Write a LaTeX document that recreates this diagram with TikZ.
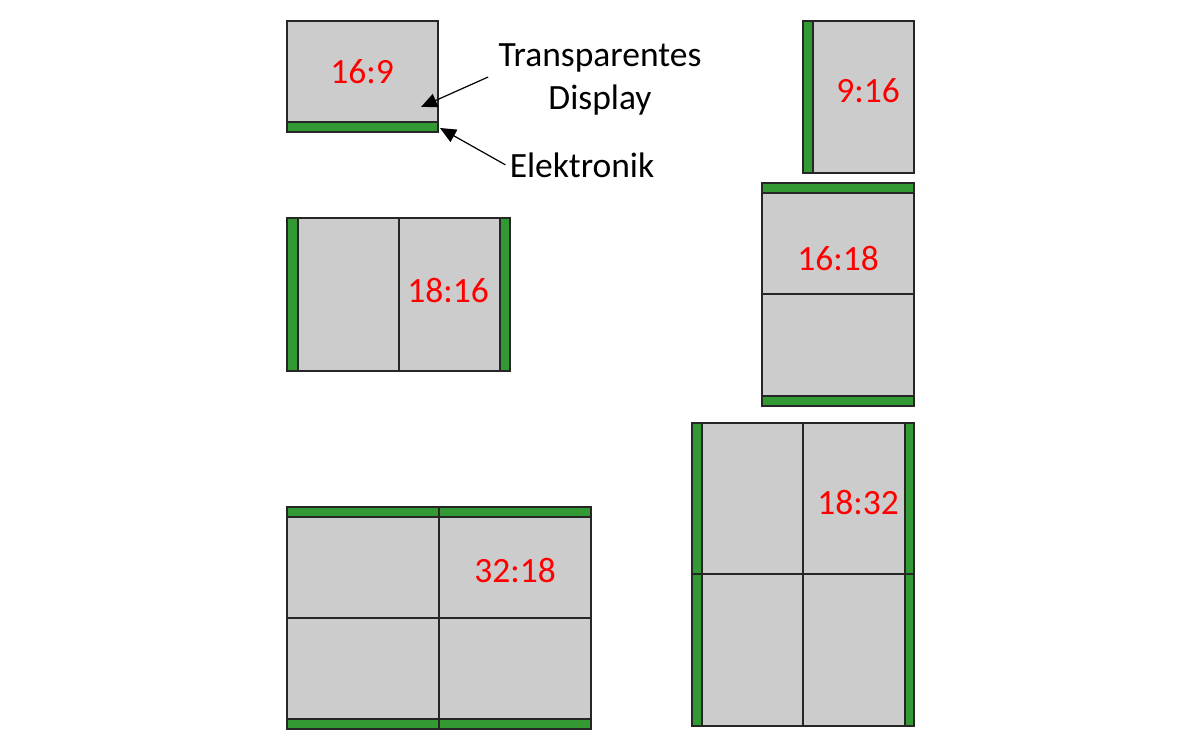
\documentclass[tikz,border=0pt]{standalone}
\usepackage{fontspec}
\setmainfont{Carlito}
\usetikzlibrary{arrows.meta}
\definecolor{dispgray}{RGB}{204,204,204}
\definecolor{elgreen}{RGB}{51,153,51}

\begin{document}
\begin{tikzpicture}[x=0.5pt,y=-0.5pt,>={Triangle[length=8pt,width=7pt]},
                    panel/.style={draw=black!85,line width=0.75pt,fill=dispgray},
                    board/.style={draw=black!85,line width=0.75pt,fill=elgreen},
                    ratio/.style={text=red,font=\fontsize{17.75}{21}\selectfont,anchor=base,inner sep=0pt},
                    caption/.style={font=\fontsize{17.75}{21.5}\selectfont,align=center,inner sep=2pt}]
      \useasboundingbox (0,0) rectangle (1200,750);

      % 16:9
      \draw[panel] (287,21) rectangle (438,122);
      \draw[board] (287,122) rectangle (438,132);
      \node[ratio] (r169) at (362,83) {16:9};
      \coordinate (dispTip) at (421,107);
      \coordinate (elTip)   at (440,128);

      \node[caption] (transp) at (600,79) {Transparentes\\Display};
      \node[caption,anchor=base] (elek) at (582,177) {Elektronik};

      % 9:16
      \draw[board] (803,21) rectangle (813,173);
      \draw[panel] (813,21) rectangle (914,173);
      \node[ratio] (r916) at (868,102) {9:16};

      % 18:16
      \draw[board] (287,218) rectangle (298,371);
      \draw[panel] (298,218) rectangle (399,371);
      \draw[panel] (399,218) rectangle (500,371);
      \draw[board] (500,218) rectangle (510,371);
      \node[ratio] (r1816) at (448,302) {18:16};

      % 16:18
      \draw[board] (762,183) rectangle (914,193);
      \draw[panel] (762,193) rectangle (914,294);
      \draw[panel] (762,294) rectangle (914,396);
      \draw[board] (762,396) rectangle (914,406);
      \node[ratio] (r1618) at (838,270) {16:18};

      % 32:18
      \foreach \xa/\xb in {287/439,439/591} {
        \draw[board] (\xa,507) rectangle (\xb,517);
        \draw[panel] (\xa,517) rectangle (\xb,618);
        \draw[panel] (\xa,618) rectangle (\xb,719);
        \draw[board] (\xa,719) rectangle (\xb,729);
      }
      \node[ratio] (r3218) at (515,582) {32:18};

      % 18:32
      \foreach \ya/\yb in {423/574,574/726} {
        \draw[board] (692,\ya) rectangle (702,\yb);
        \draw[panel] (702,\ya) rectangle (803,\yb);
        \draw[panel] (803,\ya) rectangle (905,\yb);
        \draw[board] (905,\ya) rectangle (914,\yb);
      }
      \node[ratio] (r1832) at (858,514) {18:32};

      \path[->,line width=0.6pt]
        ([xshift=-3pt,yshift=1pt]transp.west) edge (dispTip)
        (elek.west)   edge (elTip);
\end{tikzpicture}
\end{document}
